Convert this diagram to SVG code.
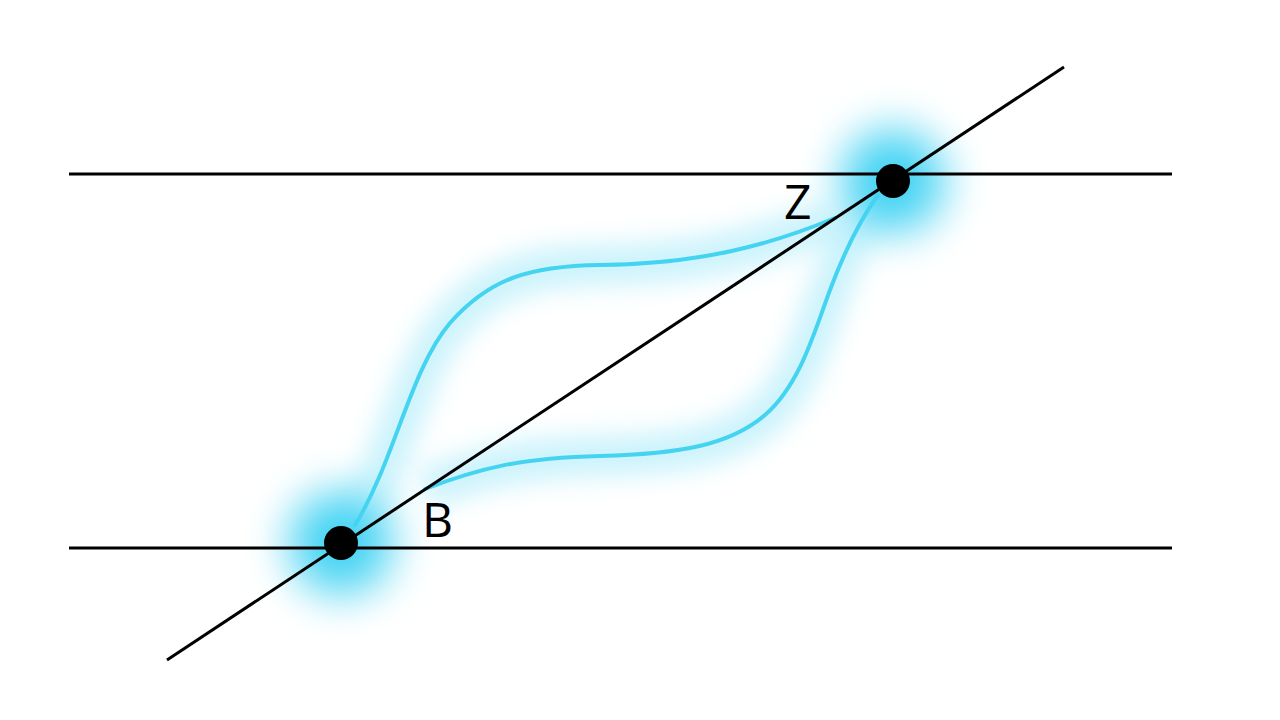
<svg xmlns="http://www.w3.org/2000/svg" width="1280" height="720" viewBox="0 0 1280 720">
<defs>
<style>
.ln{stroke:#000;stroke-width:3;fill:none;stroke-linecap:butt}
.cv{stroke:#44d4f2;stroke-width:4;fill:none;stroke-linecap:round}
.glow{stroke:#8fe5f8;stroke-width:42;fill:none;opacity:0.45;filter:url(#blur)}
.lbl{font-family:"Open Sans","Liberation Sans",Arial,sans-serif;font-size:48px;fill:#000}
.dot{fill:#000}
</style>
<filter id="blur" x="-20%" y="-20%" width="140%" height="140%"><feGaussianBlur stdDeviation="12"/></filter>
<filter id="hblur" x="-50%" y="-50%" width="200%" height="200%"><feGaussianBlur stdDeviation="12"/></filter>
<radialGradient id="halo">
<stop offset="0" stop-color="#22cdf2" stop-opacity="1"/>
<stop offset="0.45" stop-color="#4fd6f4" stop-opacity="0.8"/>
<stop offset="0.8" stop-color="#a5ebf9" stop-opacity="0.35"/>
<stop offset="1" stop-color="#d5f6fd" stop-opacity="0"/>
</radialGradient>
</defs>
<rect width="1280" height="720" fill="#fff"/>
<g id="glows">
<path class="glow" d="M355,525 C395,460 410,370 450,323 C490,278 530,266 600,265 C700,264 770,245 835,218"/>
<path class="glow" d="M425,489 C480,468 520,458 600,456 C680,454 730,445 765,415 C800,385 815,330 830,290 C845,250 860,220 878,195"/>
<circle cx="341" cy="543" r="85" fill="url(#halo)" filter="url(#hblur)"/>
<circle cx="893" cy="181" r="85" fill="url(#halo)" filter="url(#hblur)"/>
</g>
<g id="connectors">
<path id="curve-upper" class="cv" d="M355,525 C395,460 410,370 450,323 C490,278 530,266 600,265 C700,264 770,245 835,218"/>
<path id="curve-lower" class="cv" d="M425,489 C480,468 520,458 600,456 C680,454 730,445 765,415 C800,385 815,330 830,290 C845,250 860,220 878,195"/>
<line id="line-top" class="ln" x1="69" y1="174" x2="1172" y2="174"/>
<line id="line-bottom" class="ln" x1="69" y1="548" x2="1172" y2="548"/>
<line id="line-diag" class="ln" x1="167" y1="660" x2="1064" y2="67"/>
</g>
<g id="node-B">
<circle class="dot" cx="341" cy="543" r="17"/>
<text class="lbl" x="422" y="537">B</text>
</g>
<g id="node-Z">
<circle class="dot" cx="893" cy="181" r="17"/>
<text class="lbl" x="784" y="219">Z</text>
</g>
</svg>
